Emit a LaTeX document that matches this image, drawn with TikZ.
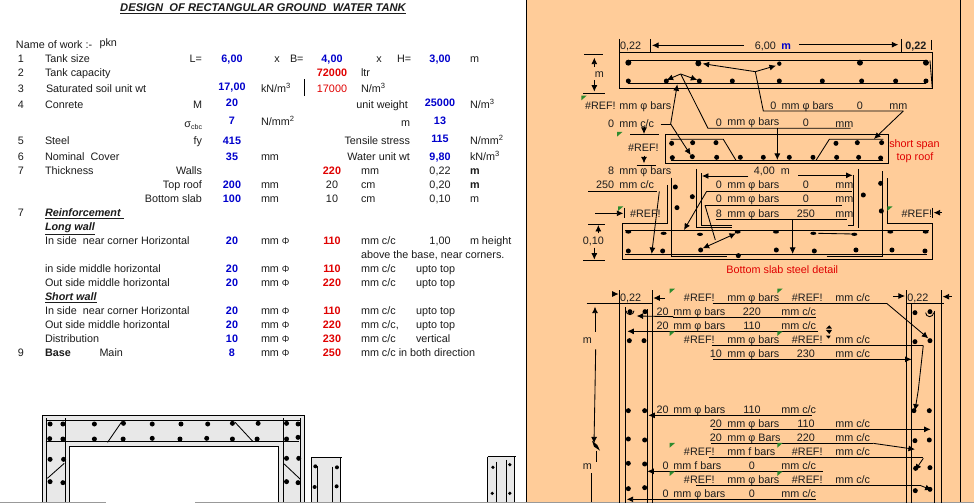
\documentclass[tikz,border=0pt]{standalone}
\usepackage{fontspec}
\setmainfont{Liberation Sans}
\usetikzlibrary{arrows.meta}
\definecolor{ink}{HTML}{1C1C1C}
\definecolor{blu}{HTML}{0000CC}
\definecolor{rd}{HTML}{E00000}
\definecolor{orng}{HTML}{FFCC99}
\definecolor{conc}{HTML}{E8E8E8}
\definecolor{grn}{HTML}{2E8B2E}
\newcounter{nn}
\newcommand{\fz}{\fontsize{10.8}{12}\selectfont}
\tikzset{
  lbl/.style={inner sep=0pt,outer sep=0pt,text height=7.6pt,text depth=0pt,text=ink,font=\fz},
  bl/.style={text=blu,font=\fz\bfseries},
  rb/.style={text=rd,font=\fz\bfseries},
  rr/.style={text=rd},
  bb/.style={font=\fz\bfseries},
  bi/.style={font=\fz\bfseries\itshape},
  ln/.style={draw=black,line width=0.85pt},
  arr/.style={draw=black,line width=0.85pt,-{Latex[length=6.5pt,width=6pt]}},
  arrb/.style={draw=black,line width=0.85pt,{Latex[length=6.5pt,width=6pt]}-{Latex[length=6.5pt,width=6pt]}},
}
\newcommand{\tL}[4][]{\stepcounter{nn}\node[lbl,anchor=west,#1] (t\arabic{nn}) at (#2,#3) {#4};}
\newcommand{\tR}[4][]{\stepcounter{nn}\node[lbl,anchor=east,#1] (t\arabic{nn}) at (#2,#3) {#4};}
\newcommand{\tC}[4][]{\stepcounter{nn}\node[lbl,anchor=center,#1] (t\arabic{nn}) at (#2,#3) {#4};}
\newcommand{\dts}[2][2.5pt]{\foreach \px/\py in {#2} \fill[black] (\px,\py) circle (#1);}
\newcommand{\gm}[1]{\fill[grn] (#1) ++(-6,-6) -- ++(16,0) -- ++(-16,14) -- cycle;}
\newcommand{\mmf}{mm φ bars}
\newcommand{\mmF}{mm \raisebox{0.3pt}{\fontsize{9.5}{9}\selectfont Φ}}
\newcommand{\rowL}[5][]{\tR{296}{#2}{#3}\tL{310}{#2}{#1\mmf}\tC{546}{#2}{#4}\tL{634}{#2}{#5}}
\newcommand{\rowR}[5][]{\tR{456}{#2}{#3}\tL{472}{#2}{#1\mmf}\tC{708}{#2}{#4}\tL{796}{#2}{#5}}
\begin{document}
\begin{tikzpicture}[x=1pt,y=-1pt]
\useasboundingbox (0,0) rectangle (974,503);
\fill[white] (0,0) rectangle (974,503);
\fill[orng] (526,0) rectangle (974,503);
\draw[black,line width=0.8pt] (526.5,0) -- (526.5,503);
\draw[black,line width=0.9pt] (960,0) -- (960,503);

% ---------- left sheet text
\stepcounter{nn}\node[lbl,anchor=center,font=\fontsize{11.2}{12}\selectfont\bfseries\itshape] (title) at (263,8) {\underline{DESIGN\ \ OF RECTANGULAR GROUND\ \ WATER TANK}};
\tL{16}{45}{Name of work :-}\tL{99.5}{43}{pkn}
\tC{21}{59}{1}\tL{45}{59}{Tank size}\tR{202}{59}{L=}\tC[bl]{232}{59}{6,00}\tC{277}{59}{x}\tL{290}{59}{B=}\tC[bl]{332}{59}{4,00}\tC{379}{59}{x}\tL{397}{59}{H=}\tC[bl]{440}{59}{3,00}\tL{470}{59}{m}
\tC{21}{73}{2}\tL{45}{73}{Tank capacity}\tC[rb]{332}{73}{72000}\tL{361}{73}{ltr}
\tC{21}{89}{3}\tL{46}{89}{Saturated soil unit wt}\tC[bl]{232}{87}{17,00}\tL{261}{89}{kN/m\textsuperscript{3}}\tC[rr]{332}{89}{17000}\tL{361}{89}{N/m\textsuperscript{3}}
\draw[black,line width=0.9pt] (304.5,79) -- (304.5,96);
\tC{21}{105}{4}\tL{45}{105}{Conrete}\tR{202}{105}{M}\tC[bl]{232}{103}{20}\tR{408}{105}{unit weight}\tC[bl]{440}{103}{25000}\tL{470}{105}{N/m\textsuperscript{3}}
\tR{202}{124}{σ\raisebox{-2pt}{\fontsize{7}{8}\selectfont cbc}}\tC[bl]{232}{121}{7}\tL{261}{122}{N/mm\textsuperscript{2}}\tR{410}{123}{m}\tC[bl]{440}{121}{13}
\tC{21}{141}{5}\tL{45}{141}{Steel}\tR{202}{141}{fy}\tC[bl]{232}{141}{415}\tR{410}{141}{Tensile stress}\tC[bl]{440}{139}{115}\tL{470}{141}{N/mm\textsuperscript{2}}
\tC{21}{157}{6}\tL{45}{157}{Nominal\ \ Cover}\tC[bl]{232}{157}{35}\tL{261}{157}{mm}\tR{410}{157}{Water unit wt}\tC[bl]{440}{157}{9,80}\tL{470}{157}{kN/m\textsuperscript{3}}
\tC{21}{171}{7}\tL{45}{171}{Thickness}\tR{202}{171}{Walls}\tC[rb]{332}{171}{220}\tL{361}{171}{mm}\tC{440}{171}{0,22}\tL[bb]{470}{171}{m}
\tR{202}{185}{Top roof}\tC[bl]{232}{185}{200}\tL{261}{185}{mm}\tC{332}{185}{20}\tL{361}{185}{cm}\tC{440}{185}{0,20}\tL[bb]{470}{185}{m}
\tR{202}{199}{Bottom slab}\tC[bl]{232}{199}{100}\tL{261}{199}{mm}\tC{332}{199}{10}\tL{361}{199}{cm}\tC{440}{199}{0,10}\tL{470}{199}{m}
\tC{21}{213}{7}\tL[bi]{45}{213}{\underline{Reinforcement\ }}
\tL[bi]{45}{227}{\underline{Long wall}}
\tL{45}{241}{In side\ \ near corner Horizontal}\tC[bl]{232}{241}{20}\tL{261}{241}{\mmF}\tC[rb]{332}{241}{110}\tL{361}{241}{mm c/c}\tC{440}{241}{1,00}\tL{470}{241}{m height}
\tL{361}{255}{above the base, near corners.}
\tL{45}{269}{in side middle horizontal}\tC[bl]{232}{269}{20}\tL{261}{269}{\mmF}\tC[rb]{332}{269}{110}\tL{361}{269}{mm c/c}\tL{416}{269}{upto top}
\tL{45}{283}{Out side middle horizontal}\tC[bl]{232}{283}{20}\tL{261}{283}{\mmF}\tC[rb]{332}{283}{220}\tL{361}{283}{mm c/c}\tL{416}{283}{upto top}
\tL[bi]{45}{297}{\underline{Short wall}}
\tL{45}{311}{In side\ \ near corner Horizontal}\tC[bl]{232}{311}{20}\tL{261}{311}{\mmF}\tC[rb]{332}{311}{110}\tL{361}{311}{mm c/c}\tL{416}{311}{upto top}
\tL{45}{325}{Out side middle horizontal}\tC[bl]{232}{325}{20}\tL{261}{325}{\mmF}\tC[rb]{332}{325}{220}\tL{361}{325}{mm c/c,}\tL{416}{325}{upto top}
\tL{45}{339}{Distribution}\tC[bl]{232}{339}{10}\tL{261}{339}{\mmF}\tC[rb]{332}{339}{230}\tL{361}{339}{mm c/c}\tL{416}{339}{vertical}
\tC{21}{353}{9}\tL[bb]{45}{353}{Base}\tL{99.5}{353}{Main}\tC[bl]{232}{353}{8}\tL{261}{353}{\mmF}\tC[rb]{332}{353}{250}\tL{361}{353}{mm c/c in both direction}

% ---------- lower-left section
\begin{scope}[shift={(0,400)},x=0.3383pt,y=-0.3333pt]
\fill[conc] (125,46) rectangle (900,308);
\fill[white] (205,138) rectangle (823,308);
\draw[ln,line width=1pt] (125,308) -- (125,46) -- (900,46) -- (900,308);
\draw[ln,line width=1pt] (205,308) -- (205,138) -- (823,138) -- (823,308);
\draw[ln] (135,62) -- (890,62);
\draw[ln] (135,124) -- (885,124);
\draw[ln] (137,55) -- (137,308);
\draw[ln] (193,55) -- (193,308);
\draw[ln] (838,55) -- (838,308);
\draw[ln] (888,55) -- (888,308);
\draw[ln] (318,127) -- (360,65);
\draw[ln] (695,67) -- (747,124);
\draw[ln] (140,235) -- (190,190);
\draw[ln] (840,192) -- (888,238);
\dts{148/72,186/72,279/72,365/70,450/72,535/72,614/72,687/70,763/70,847/70,881/72,147/116,186/117,279/117,364/117,450/115,532/117,611/115,687/117,760/117,847/117,881/112,148/178,188/178,847/175,883/175,148/245,186/248,847/245,881/248}
\fill[conc] (920,172) rectangle (1005,308);
\draw[ln] (920,172) -- (1010,172);
\draw[ln] (920,172) -- (920,308);
\draw[ln] (1005,172) -- (1005,308);
\draw[ln] (939,198) -- (939,308);
\draw[ln] (983,200) -- (983,308);
\dts[2pt]{932/199,996/202,930/261,995/259}
\fill[conc] (1441,170) rectangle (1522,308);
\draw[ln] (1441,170) -- (1524,170);
\draw[ln] (1441,170) -- (1441,308);
\draw[ln] (1522,170) -- (1522,308);
\draw[ln] (1468,185) -- (1468,308);
\draw[ln] (1498,180) -- (1498,308);
\dts[1.8pt]{1457/202,1507/194,1455/280,1507/280}
\end{scope}
\fill[gray!80] (0,501.5) rectangle (106,503);
\fill[gray!80] (195,501.5) rectangle (974,503);

% ---------- right: top span beam
\begin{scope}[shift={(570,25)},x=0.3333pt,y=-0.3333pt]
\draw[ln] (147,42) -- (147,80);
\draw[ln] (242,42) -- (242,80);
\draw[ln] (995,42) -- (995,80);
\draw[ln] (1085,45) -- (1085,75);
\tL{150}{61}{0,22}
\draw[arr] (522,61) -- (246,61);
\tC{586}{61}{6,00}\tL[bl]{634}{61}{m}
\draw[arr] (687,59) -- (985,59);
\tL[bb]{1006}{61}{0,22}
\draw[ln] (147,82) rectangle (1087,190);
\draw[ln] (175,106) -- (1068,106);
\draw[ln] (175,176) -- (1068,176);
\draw[ln] (1080,106) -- (1087,190);
\dts[3pt]{175/113,1068/113,385/115,870/113}
\dts[2.2pt]{628/116}
\dts{175/168,289/168,388/168,487/168,628/168,757/168,875/168,977/168,1068/168}
\draw[ln] (43,88) -- (100,88);
\draw[ln] (40,205) -- (105,205);
\draw[arr] (73,125) -- (73,98);
\draw[arr] (73,165) -- (73,200);
\tC{88}{146}{m}
\gm{40,218}
\tL{45}{241}{\#REF!}\tL{148}{241}{\mmf}
\tC{610}{241}{0}\tL{635}{241}{\mmf}\tC{870}{241}{0}\tL{958}{241}{mm}
\tC{123}{296}{0}\tL{148}{296}{mm c/c}
\draw[arr] (556,140) -- (398,116);
\draw[arr] (556,140) -- (618,122);
\draw[ln] (556,140) -- (580,258) -- (1000,258);
\draw[arr] (1000,258) -- (912,342);
\draw[arr] (332,147) -- (290,165);
\draw[arr] (332,147) -- (382,165);
\draw[ln] (332,147) -- (414,310) -- (842,310);
\draw[ln] (272,297) -- (302,297);
\draw[arr] (302,297) -- (322,178);
\draw[arr] (302,297) -- (362,390);
\tC{447}{294}{0}\tL{472}{290}{\mmf}\tC{708}{294}{0}\tL{796}{296}{mm}
\draw[arr] (622,310) -- (622,405);
\draw[arr] (222,305) -- (222,327);
\draw[ln] (180,328) -- (268,328);
\gm{147,327}
\tC{220}{367}{\#REF!}
\draw[arr] (222,392) -- (222,415);
\draw[ln] (200,421) -- (258,421);
\draw[ln] (287,328) rectangle (955,415);
\draw[ln] (302,343) -- (460,343) -- (498,406);
\draw[ln] (738,406) -- (778,343) -- (940,343);
\draw[ln] (302,406) -- (940,406);
\dts{305/355,368/353,438/353,798/355,862/353,935/353,307/398,367/395,440/397,511/397,580/397,658/397,729/397,800/397,866/397,932/399}
\tL[rr]{958}{355}{short span}\tC[rr]{1035}{396}{top roof}
\end{scope}

% ---------- right: walls and bottom slab
\begin{scope}[shift={(570,155)},x=0.3333pt,y=-0.3333pt]
\tC{123}{48}{8}\tL{148}{48}{\mmf}
\tL{78}{90}{250}\tL{148}{90}{mm c/c}
\draw[ln] (55,109) -- (260,109);
\draw[arr] (268,109) -- (245,297);
\draw[ln] (292,90) -- (292,205) -- (158,205) -- (158,313) -- (1088,313) -- (1088,205) -- (952,205) -- (952,68);
\draw[ln] (303,68) -- (303,305) -- (470,305);
\draw[ln] (770,305) -- (938,305) -- (938,48);
\draw[ln] (380,42) -- (380,218) -- (487,218);
\draw[ln] (394,55) -- (394,211) -- (487,211);
\draw[ln] (850,60) -- (850,211) -- (835,211);
\draw[ln] (866,42) -- (866,220);
\draw[ln] (165,226) -- (1078,226);
\draw[ln] (165,298) -- (1072,298);
\tC{606}{48}{4,00\ \ m}
\draw[arr] (535,63) -- (396,63);
\draw[arr] (685,61) -- (848,61);
\rowR{90}{0}{0}{mm}
\draw[ln] (410,109) -- (845,109);
\draw[arr] (410,109) -- (342,225);
\rowR{132}{0}{0}{mm}
\draw[ln] (405,151) -- (815,151);
\draw[ln] (405,151) -- (436,255);
\draw[arrb] (398,280) -- (498,235);
\rowR{175}{8}{250}{mm}
\draw[ln] (437,193) -- (830,193);
\draw[arr] (668,193) -- (668,297);
\tL{180}{175}{\#REF!}
\draw[arr] (75,175) -- (160,175);
\draw[ln] (163,158) -- (163,188);
\gm{150,160}
\gm{958,160}
\tL{995}{175}{\#REF!}
\draw[ln] (1088,158) -- (1088,188);
\draw[arr] (1115,173) -- (1091,173);
\tC{70}{258}{0,10}
\draw[ln] (55,208) -- (105,208);
\draw[ln] (40,316) -- (105,316);
\draw[arr] (85,235) -- (85,210);
\draw[arr] (73,278) -- (73,314);
\dts{316/96,367/125,321/158,932/85,880/120,934/168,175/288,278/288,392/285,619/285,733/288,858/285,966/285,1065/288,505/302}
\foreach \px/\py in {175/231,281/235,390/238,503/231,618/231,730/235,853/238,961/231,1067/231} \fill[black] (\px,\py) ellipse (3pt and 1.6pt);
\draw[ln] (745,235) -- (850,237);
\tC[rr]{637}{343}{Bottom slab steel detail}
\end{scope}

% ---------- right: plan
\begin{scope}[shift={(570,280)},x=0.3333pt,y=-0.3333pt]
\draw[ln] (147,30) -- (147,669);
\draw[ln] (166,82) -- (166,669);
\draw[ln] (233,88) -- (233,669);
\draw[ln] (247,30) -- (247,669);
\draw[ln] (1010,30) -- (1010,669);
\draw[ln] (1024,72) -- (1024,669);
\draw[ln] (1094,92) -- (1094,669);
\draw[ln] (1114,30) -- (1114,669);
\draw[ln] (50,70) -- (245,70);
\draw[ln] (1010,70) -- (1122,70);
\draw[arr] (125,42) -- (146,42);
\tL{150}{52}{0,22}
\draw[arr] (285,54) -- (250,54);
\gm{305,32}\gm{628,32}
\tL{342}{52}{\#REF!}\tL{472}{52}{\mmf}\tL{666}{52}{\#REF!}\tL{796}{52}{mm c/c}
\draw[ln] (428,70) -- (950,70);
\draw[arr] (950,70) -- (1075,175);
\draw[arr] (970,48) -- (1005,48);
\tL{1012}{52}{0,22}
\draw[arr] (1145,50) -- (1118,50);
\rowL{94}{20}{220}{mm c/c}
\draw[ln] (310,112) -- (738,112);
\draw[arr] (310,110) -- (200,108);
\rowL{136}{20}{110}{mm c/c}
\draw[arr] (745,154) -- (172,154);
\gm{305,160}\gm{628,160}
\tL{342}{178}{\#REF!}\tL{472}{178}{\mmf}\tL{666}{178}{\#REF!}\tL{796}{178}{mm c/c}
\draw[ln] (425,196) -- (1060,196);
\draw[ln] (1060,196) -- (1045,330);
\rowR{220}{10}{230}{mm c/c}
\draw[arr] (430,238) -- (1025,238);
\fill[black] (768,146) -- (786,146) -- (778,136) -- cycle;
\fill[black] (768,150) -- (786,150) -- (778,162) -- cycle;
\fill[black] (768,167) -- (782,167) -- (776,176) -- cycle;
\tC{52}{178}{m}
\draw[arr] (75,155) -- (75,80);
\draw[ln] (77,208) -- (75,330);
\dts{180/95,225/95,178/182,222/182,1035/98,1080/95,1035/185,1080/182}
\draw[ln] (168,92) arc (180:0:12);
\draw[ln] (1067,98) arc (180:0:12);
\end{scope}
\begin{scope}[shift={(570,390)},x=0.3333pt,y=-0.3333pt]
\draw[arr] (75,0) -- (72,160);
\fill[black] (66,152) -- (82,165) -- (90,182) -- (72,170) -- cycle;
\draw[ln] (78,182) -- (78,215);
\tC{52}{228}{m}
\draw[ln] (65,250) -- (65,335);
\draw[arr] (1045,0) -- (1035,62);
\dts{175/62,224/62,1032/62,1078/62,175/147,224/150,1035/152,1078/150,175/220,224/222,1037/235,1080/233,175/296,224/293,1036/302,1080/298}
\rowL{58}{20}{110}{mm c/c}
\draw[arr] (725,76) -- (235,76);
\rowR{100}{20}{110}{mm c/c}
\draw[arr] (430,118) -- (1082,118);
\tR{456}{142}{20}\tL{472}{142}{mm φ Bars}\tC{708}{142}{220}\tL{796}{142}{mm c/c}
\draw[ln] (422,160) -- (910,160);
\draw[arr] (910,160) -- (1035,178);
\gm{305,165}\gm{628,165}
\tL{342}{184}{\#REF!}\tL{472}{184}{mm f bars}\tL{666}{184}{\#REF!}\tL{796}{184}{mm c/c}
\draw[ln] (418,202) -- (1060,202);
\draw[arr] (1060,205) -- (1035,242);
\tR{296}{226}{0}\tL{310}{226}{mm f bars}\tC{546}{226}{0}\tL{634}{226}{mm c/c}
\draw[arr] (758,244) -- (232,244);
\gm{305,250}\gm{628,250}
\tL{342}{268}{\#REF!}\tL{472}{268}{\mmf}\tL{666}{268}{\#REF!}\tL{796}{268}{mm c/c}
\draw[ln] (378,286) -- (1050,286);
\draw[arr] (1050,286) -- (1085,300);
\rowL{310}{0}{0}{mm c/c}
\draw[arr] (738,328) -- (170,328);
\end{scope}
\end{tikzpicture}
\end{document}
